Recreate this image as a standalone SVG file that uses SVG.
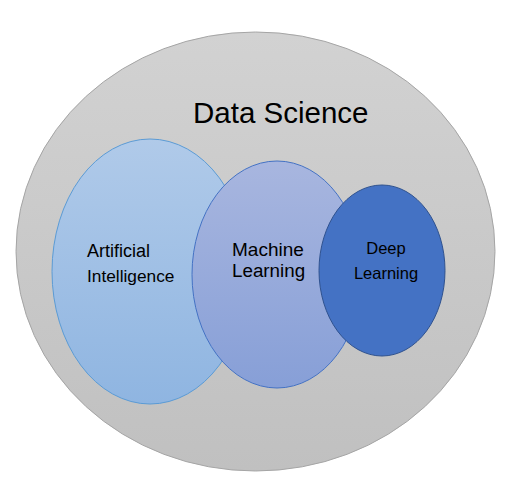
<svg xmlns="http://www.w3.org/2000/svg" width="525" height="484" viewBox="0 0 525 484">
<defs>
<linearGradient id="gDS" x1="0" y1="0" x2="0" y2="1"><stop offset="0" stop-color="#d2d2d2"/><stop offset="1" stop-color="#c0c0c0"/></linearGradient>
<linearGradient id="gAI" x1="0" y1="0" x2="0" y2="1"><stop offset="0" stop-color="#b0cae9"/><stop offset="1" stop-color="#8fb5e1"/></linearGradient>
<linearGradient id="gML" x1="0" y1="0" x2="0" y2="1"><stop offset="0" stop-color="#a8b6df"/><stop offset="1" stop-color="#879fd7"/></linearGradient>
<style>
.t{font-family:"Liberation Sans",Arial,sans-serif;fill:#000}
</style>
</defs>
<rect width="525" height="484" fill="#ffffff"/>
<g id="data-science">
<ellipse cx="255.5" cy="251.5" rx="239.5" ry="219.5" fill="url(#gDS)" stroke="#a5a5a5" stroke-width="1"/>
<text class="t" x="193" y="123" font-size="29.5">Data Science</text>
</g>
<g id="artificial-intelligence">
<ellipse cx="150" cy="271.5" rx="98" ry="132.5" fill="url(#gAI)" stroke="#5b9bd5" stroke-width="1"/>
<text class="t" x="87" y="257" font-size="18">Artificial</text>
<text class="t" x="87" y="282" font-size="17.3">Intelligence</text>
</g>
<g id="machine-learning">
<ellipse cx="277" cy="274.5" rx="85" ry="113.5" fill="url(#gML)" stroke="#4472c4" stroke-width="1"/>
<text class="t" x="232" y="256" font-size="19">Machine</text>
<text class="t" x="232" y="277" font-size="18.8">Learning</text>
</g>
<g id="deep-learning">
<ellipse cx="382" cy="270.5" rx="63" ry="85.5" fill="#4472c4" stroke="#2f528f" stroke-width="1"/>
<text class="t" x="386" y="254" font-size="16.5" text-anchor="middle">Deep</text>
<text class="t" x="386" y="279" font-size="16.5" text-anchor="middle">Learning</text>
</g>
<g id="connectors"/>
</svg>
